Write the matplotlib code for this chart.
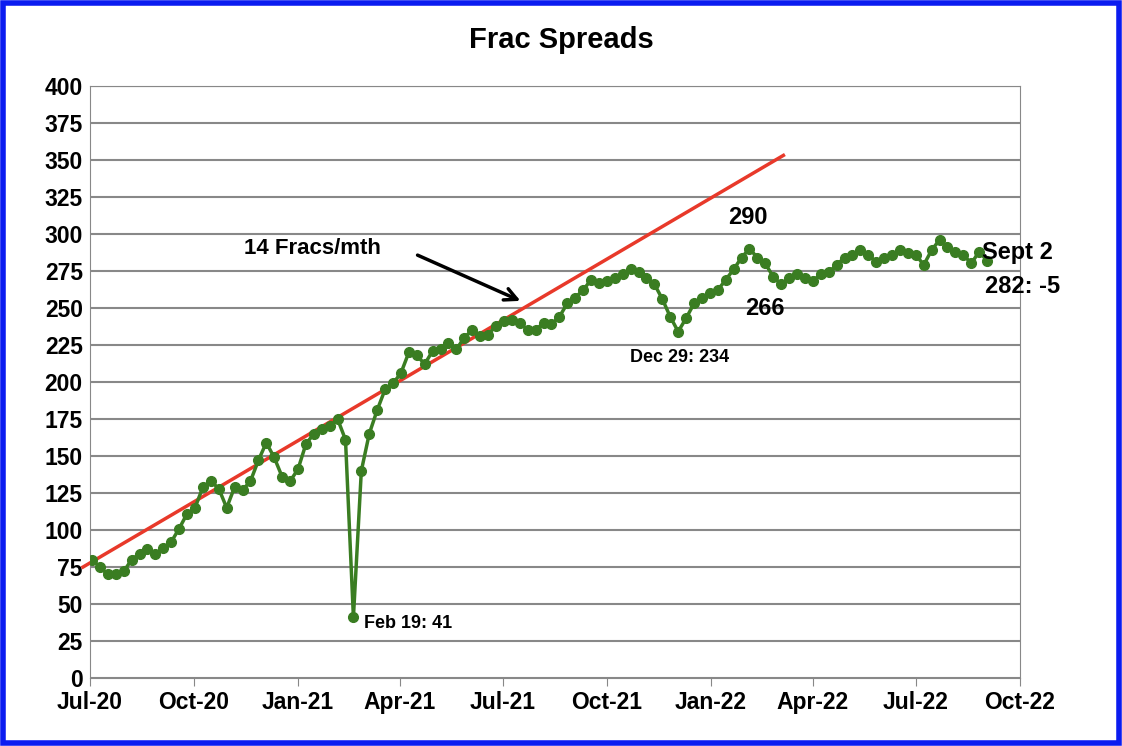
import numpy as np
import pandas as pd
import matplotlib
matplotlib.use('Agg')
from matplotlib import pyplot as plt, dates as mdates
from matplotlib.patches import Rectangle

# Weekly frac spread counts, Jul 2020 .. Sep 2 2022
fracs_2020_21 = [80, 75, 70, 70, 72, 80, 84, 87, 84, 88,
                 92, 101, 111, 115, 129, 133, 128, 115, 129, 127,
                 133, 147, 159, 149, 136, 133, 141, 158, 165, 168,
                 170, 175, 161, 41, 140, 165, 181, 195, 199, 206,
                 220, 218, 212, 221, 222, 226, 222, 230,
                 235, 231, 232, 238, 241, 242, 240, 235, 235,
                 240, 239, 244, 253, 257, 262, 269, 267, 268,
                 270, 273, 276, 274, 270, 266, 256, 244]
fracs_2022 = [234, 243, 253, 257, 260, 262, 269, 276, 284, 290,
              284, 280, 271, 266, 270, 273, 270, 268, 273, 274,
              279, 284, 286, 289, 286, 281, 284, 286, 289, 287,
              286, 279, 289, 296, 291, 288, 286, 280, 288, 282]
fracs = fracs_2020_21 + fracs_2022
weeks = pd.date_range('2020-07-03', periods=len(fracs), freq='7D')

# 14 fracs/month trend line
trend_dates = pd.to_datetime(['2020-06-25', '2022-03-06'])
trend_vals = [75, 353]

fig = plt.figure(figsize=(11.22, 7.46), dpi=100)
ax = fig.add_axes([0.080, 0.091, 0.829, 0.794])

ax.plot(trend_dates, trend_vals, c='#e8392a', lw=2.5, zorder=3, clip_on=False)
ax.plot(weeks, fracs, c='#3a7d22', lw=2.5, marker='o', ms=7, zorder=4)

ax.set_xlim(pd.Timestamp('2020-07-01'), pd.Timestamp('2022-10-01'))
ax.set_ylim(0, 400)
ax.set_yticks(np.arange(0, 401, 25))
ax.xaxis.set_major_locator(mdates.MonthLocator(bymonth=[1, 4, 7, 10]))
ax.xaxis.set_major_formatter(mdates.DateFormatter('%b-%y'))
ax.grid(axis='y', color='#888888', lw=1.5)
ax.set_axisbelow(True)
for s in ax.spines.values():
    s.set_color('#888888')
ax.tick_params(axis='both', labelsize=16.5, colors='#888888', labelcolor='black', length=6)
ax.tick_params(axis='y', length=0, pad=5)
for lab in ax.get_xticklabels() + ax.get_yticklabels():
    lab.set_fontweight('bold')
    lab.set_family('Liberation Sans')

def px(x, y):
    return x / 1122, 1 - y / 746

font = dict(family='Liberation Sans', fontweight='bold', color='black')
fig.text(*px(561, 40), 'Frac Spreads', ha='center', va='center', fontsize=21, **font)
fig.text(*px(312, 248), '14 Fracs/mth', ha='center', va='center', fontsize=16, **font)
ax.annotate('', xy=px(523, 302), xycoords='figure fraction',
            xytext=px(415, 254), textcoords='figure fraction',
            arrowprops=dict(arrowstyle='->', lw=2.5, color='black', mutation_scale=22))
fig.text(*px(408, 623), 'Feb 19: 41', ha='center', va='center', fontsize=13, **font)
fig.text(*px(680, 357), 'Dec 29: 234', ha='center', va='center', fontsize=13, **font)
fig.text(*px(748, 218), '290', ha='center', va='center', fontsize=17, **font)
fig.text(*px(765, 308), '266', ha='center', va='center', fontsize=17, **font)
fig.text(*px(982, 253), 'Sept 2', ha='left', va='center', fontsize=17, **font)
fig.text(*px(985, 287), '282: -5', ha='left', va='center', fontsize=17, **font)

fig.patches.append(Rectangle((0.003, 0.004), 0.994, 0.992, transform=fig.transFigure,
                             fill=False, edgecolor='#0b1cf0', lw=4))

fig.savefig('out.png', dpi=100)
